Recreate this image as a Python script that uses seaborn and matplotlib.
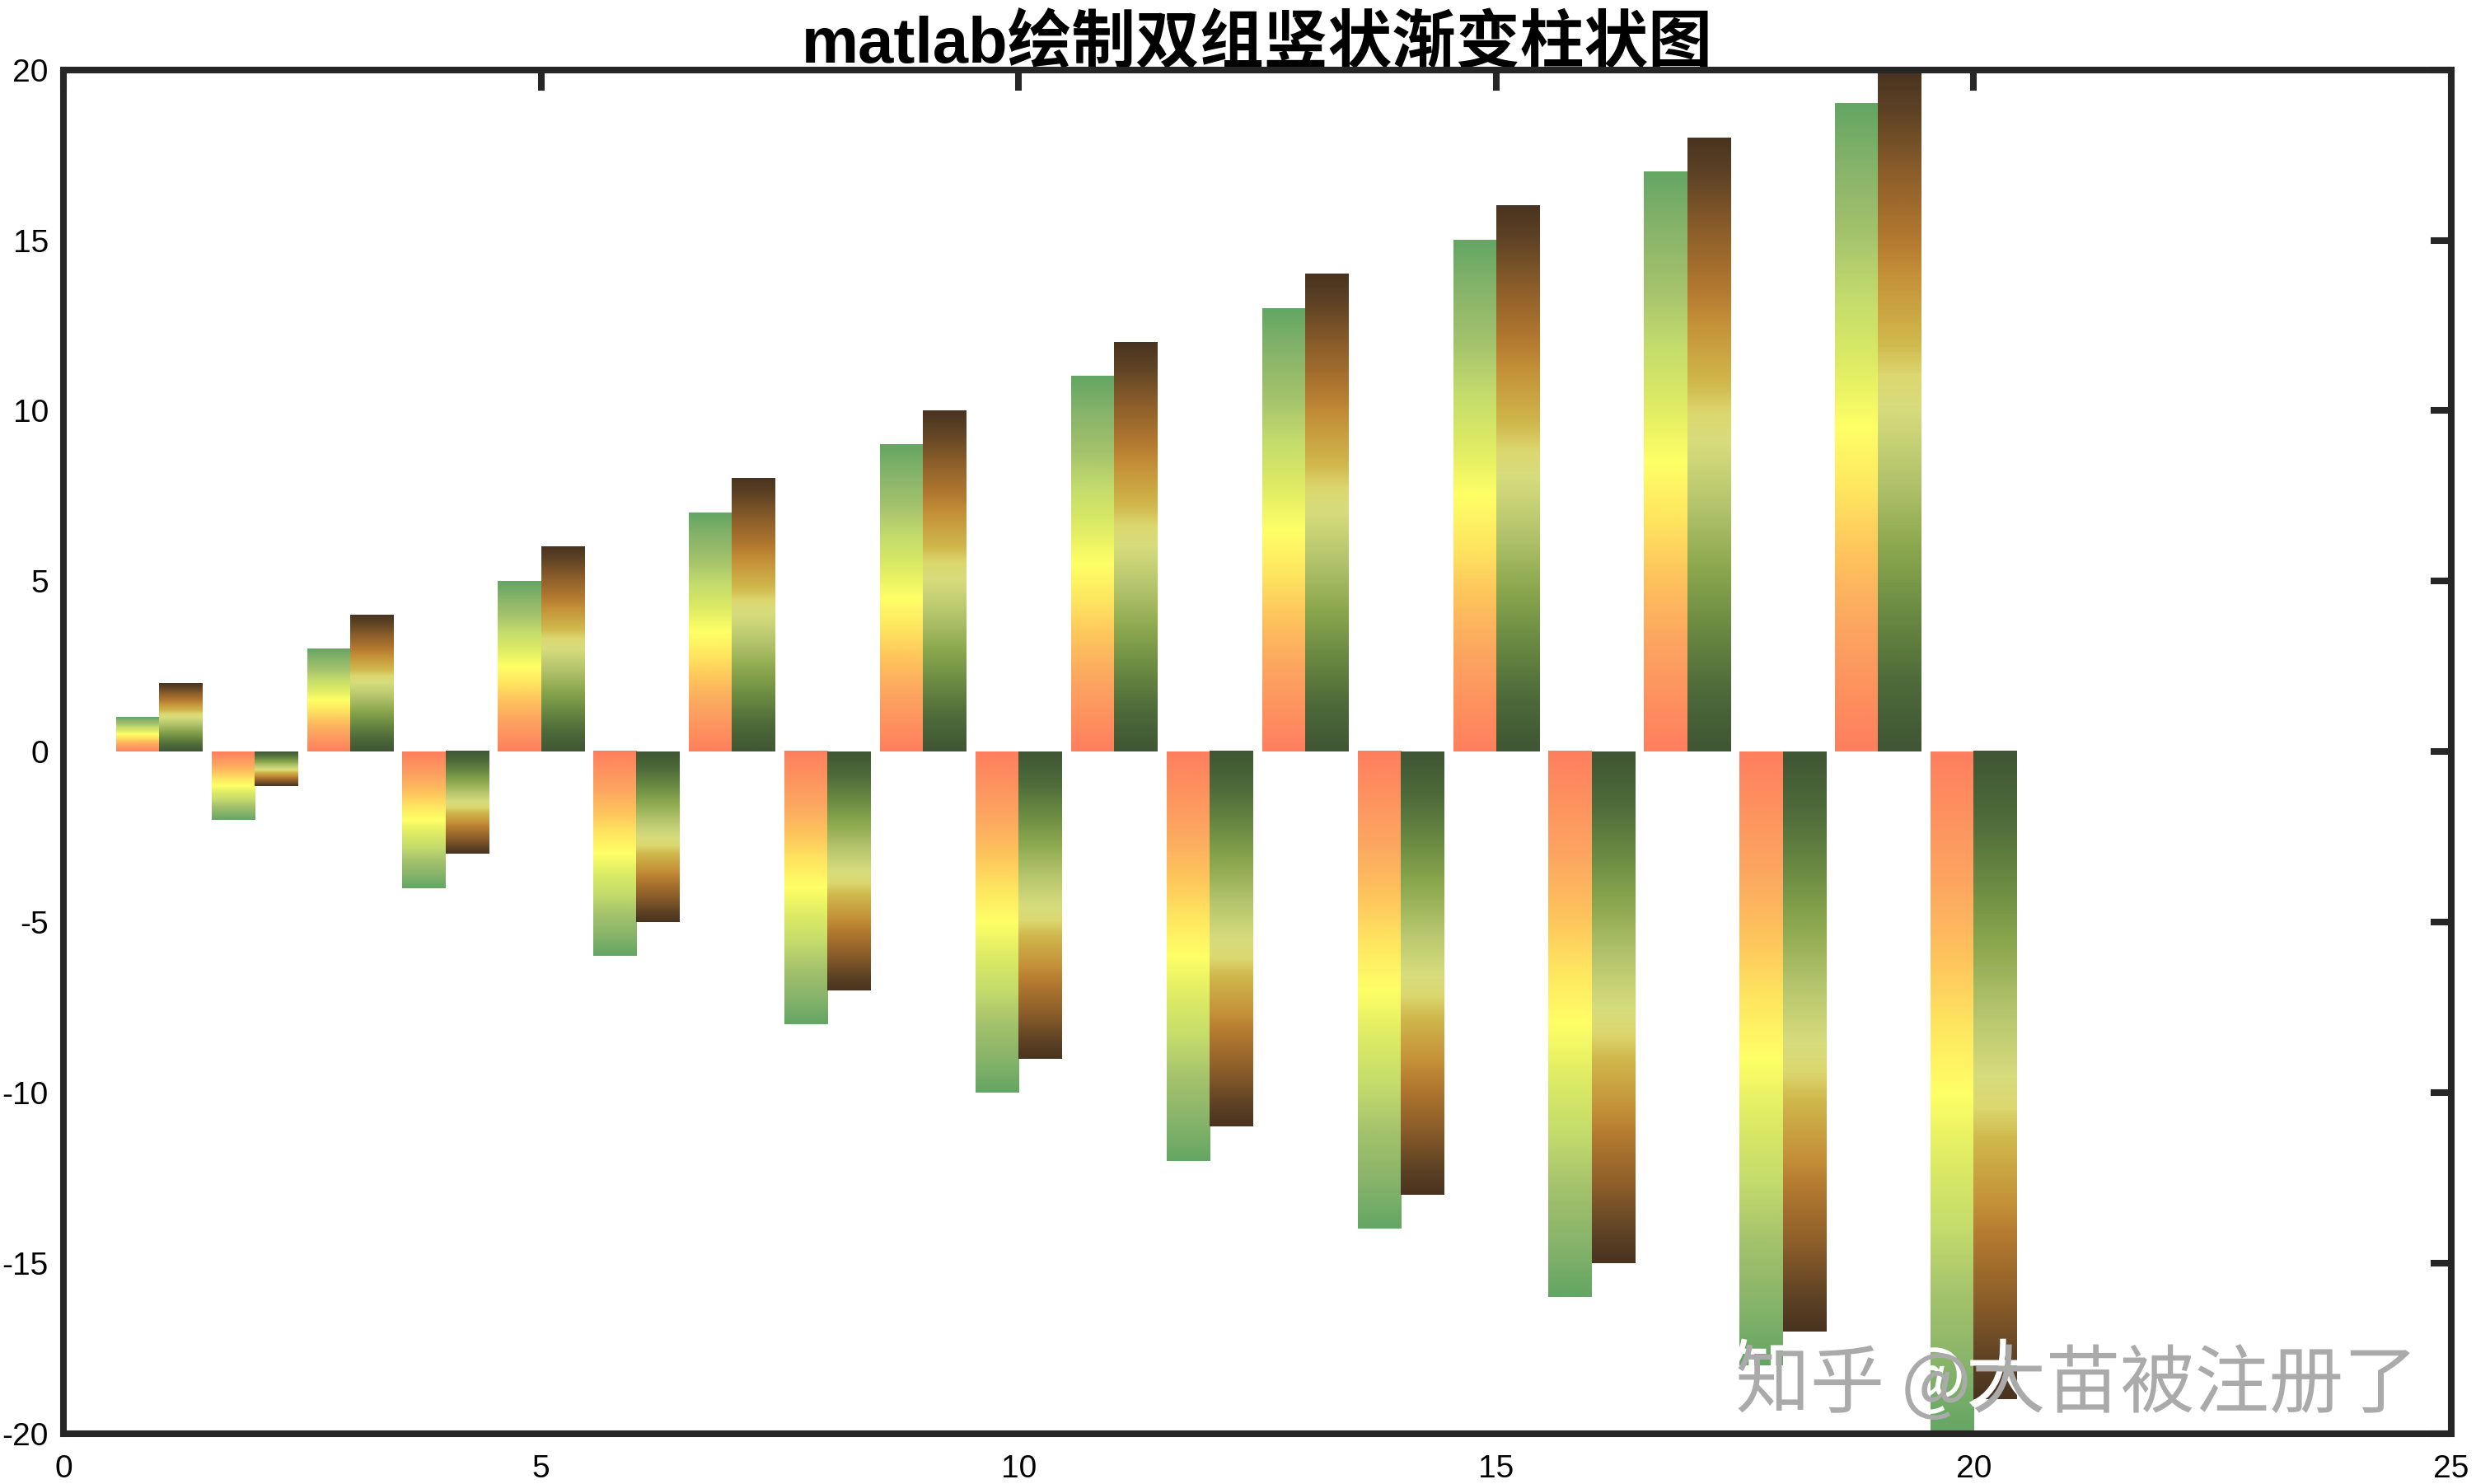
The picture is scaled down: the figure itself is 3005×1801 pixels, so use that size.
import numpy as np
import pandas as pd
import matplotlib
matplotlib.use("Agg")
import matplotlib.pyplot as plt
import matplotlib.patheffects as pe
from matplotlib.colors import LinearSegmentedColormap
import seaborn as sns

# --- data ---
x_pos = list(range(1, 21))
group_a = [1, -2, 3, -4, 5, -6, 7, -8, 9, -10, 11, -12, 13, -14, 15, -16, 17, -18, 19, -20]
group_b = [2, -1, 4, -3, 6, -5, 8, -7, 10, -9, 12, -11, 14, -13, 16, -15, 18, -17, 20, -19]
title_text = "matlab绘制双组竖状渐变柱状图"
watermark = "知乎 @大苗被注册了"

# gradients go from the zero line to the end of each bar
cmap_a = LinearSegmentedColormap.from_list("ga", [
    (0.0, "#FF7F5E"), (0.2, "#FCA860"), (0.3, "#FEC35C"), (0.4, "#FEE560"),
    (0.5, "#FFFF66"), (0.6, "#DDEB64"), (0.7, "#C4DC6C"), (0.8, "#A4C26C"),
    (0.9, "#88B46A"), (1.0, "#64A664")])
cmap_b = LinearSegmentedColormap.from_list("gb", [
    (0.0, "#405634"), (0.1, "#4E6B3A"), (0.2, "#6A8A42"), (0.3, "#8CA84E"),
    (0.4, "#B4C46C"), (0.5, "#D6DC7C"), (0.55, "#DCD870"), (0.6, "#D0B84C"),
    (0.7, "#C49038"), (0.75, "#B47A30"), (0.85, "#8C5E2A"), (0.95, "#5A4024"),
    (1.0, "#4A3420")])

df = pd.DataFrame({
    "x": x_pos * 2,
    "value": group_a + group_b,
    "group": ["A"] * len(group_a) + ["B"] * len(group_b),
})

sns.set_style("white")
plt.rcParams["font.family"] = ["Liberation Sans", "Noto Sans CJK SC", "DejaVu Sans"]
plt.rcParams["axes.unicode_minus"] = False

fig = plt.figure(figsize=(15.025, 9.005), dpi=200)
ax = fig.add_axes([0.0256, 0.034, 0.9644, 0.919])

sns.barplot(data=df, x="x", y="value", hue="group", native_scale=True,
            width=0.9, errorbar=None, legend=False, linewidth=0,
            palette=["#FF7F5E", "#405634"], ax=ax)

grad = np.linspace(0, 1, 256).reshape(-1, 1)
for cont, cm in zip(ax.containers, [cmap_a, cmap_b]):
    for p in cont:
        x0, y0 = p.get_x(), p.get_y()
        w, h = p.get_width(), p.get_height()
        ax.imshow(grad, cmap=cm, origin="lower", aspect="auto",
                  extent=(x0, x0 + w, y0, y0 + h), interpolation="bilinear",
                  zorder=2)
        p.set_facecolor("none")

ax.set_xlim(0, 25)
ax.set_ylim(-20, 20)
ax.set_xticks([0, 5, 10, 15, 20, 25])
ax.set_yticks([-20, -15, -10, -5, 0, 5, 10, 15, 20])
ax.set_xlabel("")
ax.set_ylabel("")

for s in ax.spines.values():
    s.set_visible(True)
    s.set_linewidth(2.9)
    s.set_color("#262626")
    s.set_zorder(5)
ax.tick_params(direction="in", length=9, width=2.9, color="#262626",
               top=True, right=True, labelsize=14, labelcolor="black")
ax.tick_params(axis="y", pad=6.5)
ax.tick_params(axis="x", pad=9)

ax.set_title(title_text, fontsize=28, fontweight="bold", color="black",
             family=["Liberation Sans", "Noto Sans CJK SC"], pad=3)

fig.text(0.701, 0.066, watermark, fontsize=32.5, color="#AAAAAA",
         family=["Noto Sans CJK SC", "DejaVu Sans"], va="center", ha="left",
         zorder=10,
         path_effects=[pe.withSimplePatchShadow(offset=(-2.5, 2.5),
                                                shadow_rgbFace="white", alpha=1)])

fig.savefig("out.png", dpi=200)
